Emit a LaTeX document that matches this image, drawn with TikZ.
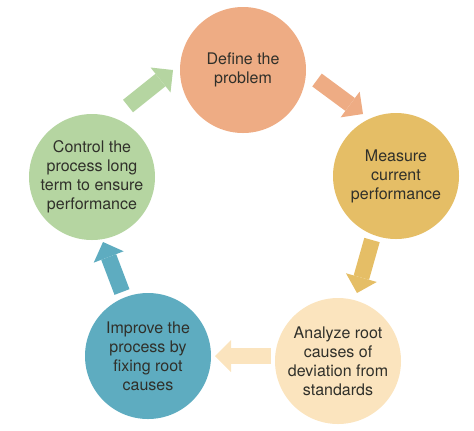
\documentclass[tikz,border=0pt]{standalone}
\usepackage{fontspec}
\setmainfont{TeX Gyre Heros}
\usetikzlibrary{arrows.meta}
\definecolor{cSalmon}{RGB}{238,172,132}
\definecolor{cGold}{RGB}{229,190,102}
\definecolor{cCream}{RGB}{251,228,190}
\definecolor{cTeal}{RGB}{94,172,192}
\definecolor{cGreen}{RGB}{181,213,161}
\definecolor{cText}{RGB}{48,48,42}
\begin{document}
\begin{tikzpicture}[x=0.75pt,y=0.75pt,yscale=-1,xscale=1,
  phase/.style={circle,fill=#1,minimum size=94.5pt,inner sep=0pt,text=cText,align=center,font=\fontsize{12}{14.25}\selectfont},
  flow/.style={draw=#1,line width=12pt,-{Triangle[width=24pt,length=12pt,line width=0pt]}}]
\useasboundingbox (0,0) rectangle (474,430);
\node[phase=cSalmon] (define) at (243,70) {Define the\\problem};
\node[phase=cGold] (measure) at (396,176) {Measure\\current\\performance};
\node[phase=cCream] (analyze) at (338,361) {Analyze root\\causes of\\deviation from\\standards};
\node[phase=cTeal] (improve) at (148,356) {Improve the\\process by\\fixing root\\causes};
\node[phase=cGreen] (control) at (92,177) {Control the\\process long\\term to ensure\\performance};
\coordinate (control-out) at (128,106);
\coordinate (define-in) at (173,70);
\coordinate (define-out) at (317,80);
\coordinate (measure-in) at (363,114);
\coordinate (measure-out) at (372,240);
\coordinate (analyze-in) at (357,293);
\coordinate (analyze-out) at (271,356);
\coordinate (improve-in) at (215,356);
\coordinate (improve-out) at (122,292);
\coordinate (control-in) at (103,242);
\draw[flow=cGreen] (control-out) -- (define-in);
\draw[flow=cSalmon] (define-out) -- (measure-in);
\draw[flow=cGold] (measure-out) -- (analyze-in);
\draw[flow=cCream] (analyze-out) -- (improve-in);
\draw[flow=cTeal] (improve-out) -- (control-in);
\end{tikzpicture}
\end{document}
